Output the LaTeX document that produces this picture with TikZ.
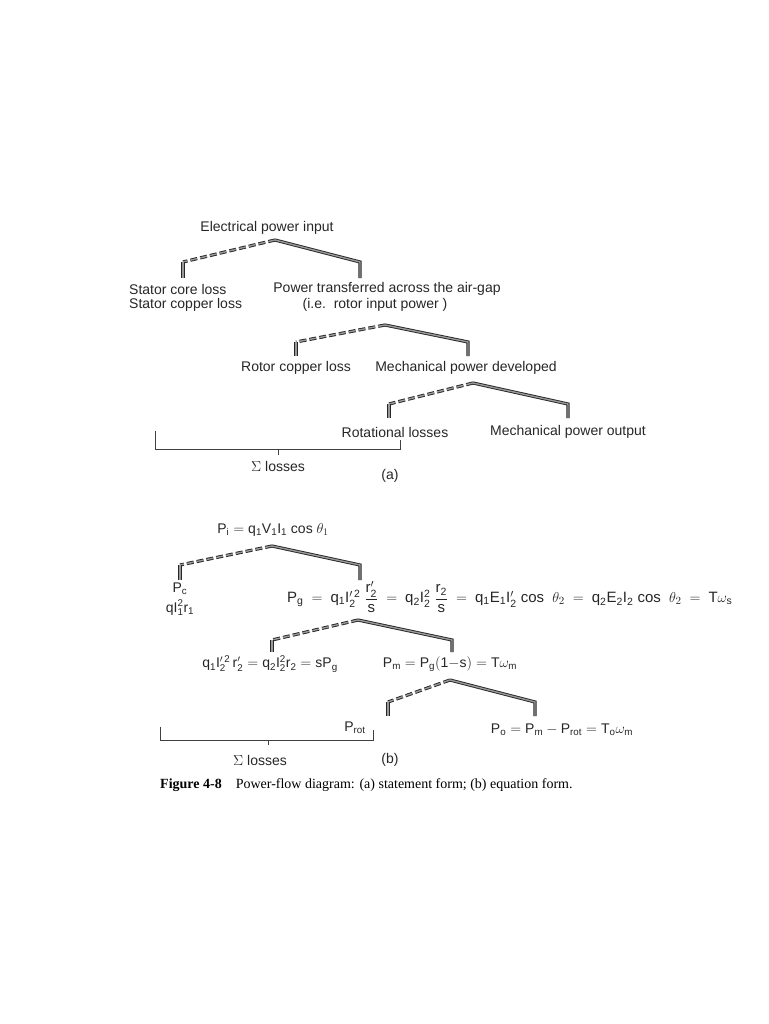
\documentclass[tikz,border=0pt]{standalone}
\usepackage{amsmath}
\usepackage{fontspec}
\setmainfont{Liberation Sans}
\newfontfamily\capfont{Liberation Serif}
\begin{document}
\begin{tikzpicture}[x=1pt,y=-1pt,
  lbl/.style={inner sep=0pt,font=\fontsize{14}{16}\selectfont,text=black!85},
  brs/.style={draw=black!85,double=black!40,line width=0.9pt,double distance=1.4pt},
  brd/.style={brs,dash pattern=on 7pt off 3pt},
  thin/.style={draw=black!75,line width=0.8pt}]
\useasboundingbox (0,0) rectangle (768,1024);
% ---- (a)
\node[lbl] (ein) at (267,228) {Electrical power input};
\coordinate (a1) at (275,240); \coordinate (a1l) at (183,262); \coordinate (a1le) at (183,278);
\coordinate (a1r) at (360,262); \coordinate (a1re) at (360,278);
\draw[brd] (a1) -- (a1l); \draw[brs] (a1l) -- (a1le);
\draw[brs] (a1) -- (a1r) -- (a1re);
\node[lbl,anchor=west] (scl) at (129,289) {Stator core loss};
\node[lbl,anchor=west] (scu) at (129,305) {Stator copper loss};
\node[lbl] (pt) at (387,289) {Power transferred across the air-gap};
\node[lbl] (ri) at (375,305) {(i.e.\ \ rotor input power )};
\coordinate (a2) at (385,325); \coordinate (a2l) at (296,342); \coordinate (a2le) at (296,356);
\coordinate (a2r) at (468,342); \coordinate (a2re) at (468,356);
\draw[brd] (a2) -- (a2l); \draw[brs] (a2l) -- (a2le);
\draw[brs] (a2) -- (a2r) -- (a2re);
\node[lbl] (rcl) at (296,368) {Rotor copper loss};
\node[lbl] (mpd) at (466,368) {Mechanical power developed};
\coordinate (a3) at (473,383); \coordinate (a3l) at (389,404); \coordinate (a3le) at (389,418);
\coordinate (a3r) at (568,404); \coordinate (a3re) at (568,418);
\draw[brd] (a3) -- (a3l); \draw[brs] (a3l) -- (a3le);
\draw[brs] (a3) -- (a3r) -- (a3re);
\node[lbl] (rl) at (395,432) {Rotational losses};
\node[lbl] (mpo) at (568,432) {Mechanical power output};
\coordinate (ba1) at (155,431); \coordinate (ba2) at (155,449); \coordinate (ba3) at (400,449);
\coordinate (ba4) at (400,440); \coordinate (bt1) at (278,449); \coordinate (bt2) at (278,455);
\draw[thin] (ba1) -- (ba2) -- (ba3) -- (ba4);
\draw[thin] (bt1) -- (bt2);
\node[lbl] (sla) at (278,466) {$\Sigma$ losses};
\node[lbl] (la) at (390,476) {(a)};
% ---- (b)
\node[lbl] (pi) at (273,530) {$\mathrm{P_i = q_1V_1I_1}$ cos $\theta_1$};
\coordinate (b1) at (272,546); \coordinate (b1l) at (180,565); \coordinate (b1le) at (180,580);
\coordinate (b1r) at (360,565); \coordinate (b1re) at (360,580);
\draw[brd] (b1) -- (b1l); \draw[brs] (b1l) -- (b1le);
\draw[brs] (b1) -- (b1r) -- (b1re);
\node[lbl] (pc) at (180,589) {$\mathrm{P_c}$};
\node[lbl] (qi) at (180,608) {$\mathrm{qI_1^2r_1}$};
\node[lbl,anchor=west,font=\fontsize{15}{17}\selectfont] (pg) at (287,597) {$\mathrm{P_g \;=\; q_1I_2'^{\,2}\;\dfrac{r_2'}{s} \;=\; q_2I_2^2\;\dfrac{r_2}{s} \;=\; q_1E_1I_2'}$ cos $\;\theta_2 \;=\; \mathrm{q_2E_2I_2}$ cos $\;\theta_2 \;=\; \mathrm{T}\omega_\mathrm{s}$};
\coordinate (b2) at (358,620); \coordinate (b2l) at (272,640); \coordinate (b2le) at (272,652);
\coordinate (b2r) at (452,640); \coordinate (b2re) at (452,652);
\draw[brd] (b2) -- (b2l); \draw[brs] (b2l) -- (b2le);
\draw[brs] (b2) -- (b2r) -- (b2re);
\node[lbl] (rcq) at (270,664) {$\mathrm{q_1I_2'^{\,2}\,r_2' = q_2I_2^2r_2 = sP_g}$};
\node[lbl] (pm) at (450,664) {$\mathrm{P_m = P_g(1{-}s) = T}\omega_\mathrm{m}$};
\coordinate (b3) at (450,680); \coordinate (b3l) at (388,702); \coordinate (b3le) at (388,716);
\coordinate (b3r) at (535,702); \coordinate (b3re) at (535,716);
\draw[brd] (b3) -- (b3l); \draw[brs] (b3l) -- (b3le);
\draw[brs] (b3) -- (b3r) -- (b3re);
\node[lbl] (prot) at (355,728) {$\mathrm{P_{rot}}$};
\node[lbl] (po) at (562,730) {$\mathrm{P_o = P_m - P_{rot} = T_o}\omega_\mathrm{m}$};
\coordinate (bb1) at (160,727); \coordinate (bb2) at (160,740); \coordinate (bb3) at (373,740);
\coordinate (bb4) at (373,730); \coordinate (bbt1) at (268,740); \coordinate (bbt2) at (268,745);
\draw[thin] (bb1) -- (bb2) -- (bb3) -- (bb4);
\draw[thin] (bbt1) -- (bbt2);
\node[lbl] (slb) at (260,760) {$\Sigma$ losses};
\node[lbl] (lb) at (390,760) {(b)};
\node[inner sep=0pt,anchor=west,font=\capfont\fontsize{14}{16}\selectfont] (cap) at (160,785) {\textbf{Figure 4-8}\quad Power-flow diagram: (a) statement form; (b) equation form.};
\end{tikzpicture}
\end{document}
